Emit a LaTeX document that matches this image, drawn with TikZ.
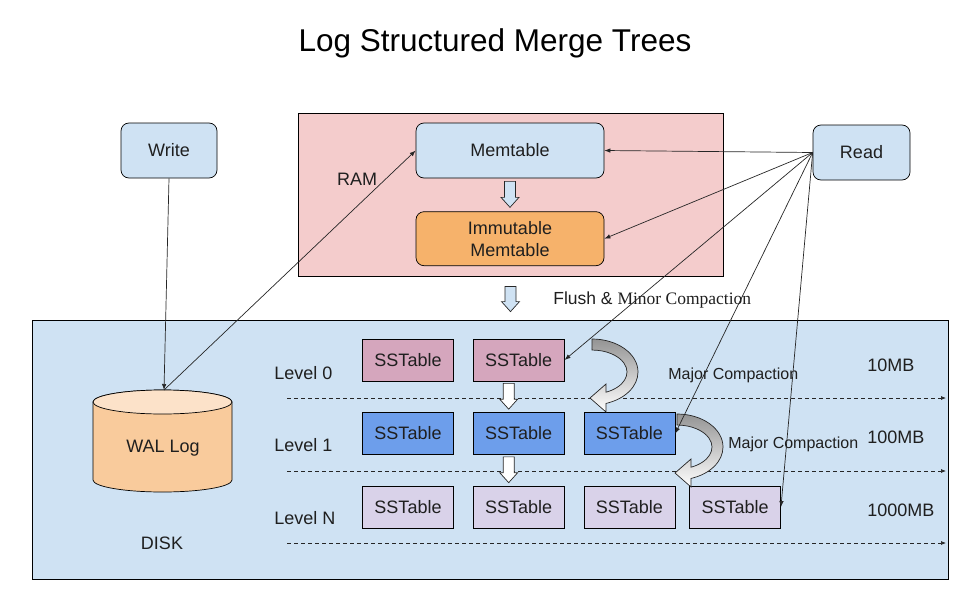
\documentclass[tikz,border=0pt]{standalone}
\usepackage{fontspec}
\setmainfont{Liberation Sans}
\newfontfamily\serifpart{Liberation Serif}
\usepackage{xcolor}
\usetikzlibrary{calc}
\usetikzlibrary{positioning}
\usetikzlibrary{arrows.meta}

\definecolor{paleblue}{HTML}{CFE2F3}
\definecolor{palered}{HTML}{F4CCCC}
\definecolor{deeporange}{HTML}{F6B26B}
\definecolor{lightorange}{HTML}{F9CB9C}
\definecolor{levelzero}{HTML}{D5A6BD}
\definecolor{levelone}{HTML}{6D9EEB}
\definecolor{leveln}{HTML}{D9D2E9}
\definecolor{ink}{HTML}{1F1F1F}

% thick hollow arrow pointing down: fill, from, to
\newcommand{\fatarrow}[3]{%
  \path[draw=black!85, line width=0.7pt, fill=#1] let \p1=(#2), \p2=(#3) in
    (\x1-5.5pt,\y1) -- (\x1+5.5pt,\y1) -- (\x1+5.5pt,\y2+10pt) -- (\x1+9pt,\y2+10pt)
    -- (\x1,\y2) -- (\x1-9pt,\y2+10pt) -- (\x1-5.5pt,\y2+10pt) -- cycle;
}
% curved compaction arrow around a centre point
\newcommand{\bentarrow}[2]{%
  \begin{scope}[shift={(#1,#2)}]
    \path[draw=black!85, line width=0.7pt, top color=black!42, bottom color=white]
      (0,-33) arc[start angle=90, end angle=-72.3, x radius=46pt, y radius=33pt]
      -- (14,40) -- (-2,26) -- (14,12) -- (14,20.2)
      arc[start angle=-66.4, end angle=90, x radius=35pt, y radius=22pt] -- cycle;
  \end{scope}
}

\begin{document}
\begin{tikzpicture}[x=1pt, y=-1pt, >={Latex[length=6pt, width=4.5pt]}, line width=0.7pt, font=\fontsize{18pt}{22pt}\selectfont, text=ink]
    \tikzstyle{area}=[draw=black, line width=0.8pt, inner sep=0pt]
    \tikzstyle{rbox}=[draw=black, rounded corners=8pt, fill=paleblue, inner sep=0pt, align=center]
    \tikzstyle{sst}=[draw=black, minimum width=91pt, minimum height=42pt, inner sep=0pt]
    \tikzstyle{lbl}=[inner sep=0pt]
    \tikzstyle{wire}=[->, draw=black!85]

    \useasboundingbox (0,0) rectangle (979,594);

    \node[anchor=base, font=\fontsize{31.5pt}{36pt}\selectfont, text=black] (title) at (495,52) {Log Structured Merge Trees};

    % memory and disk
    \node[area, fill=palered, minimum width=425pt, minimum height=163pt] (ram) at (510.5,194.5) {};
    \node[area, fill=paleblue, minimum width=916pt, minimum height=259pt] (disk) at (490,449.5) {};

    \node[rbox, minimum width=96pt, minimum height=55pt] (write) at (169,150.5) {Write};
    \node[rbox, minimum width=97pt, minimum height=55pt] (read) at (861.5,152.5) {Read};
    \node[rbox, minimum width=188pt, minimum height=55pt] (mem) at (510,150.5) {Memtable};
    \node[rbox, fill=deeporange, minimum width=188pt, minimum height=54pt, below=33pt of mem] (imm) {Immutable\\Memtable};
    \node[lbl] (ramlbl) at (357,179) {RAM};

    % write ahead log
    \path[draw=black, fill=lightorange] (93,402) -- (93,480) arc[start angle=180, end angle=360, x radius=69.5pt, y radius=12pt] -- (232,402) arc[start angle=0, end angle=180, x radius=69.5pt, y radius=12pt] -- cycle;
    \path[draw=black, fill=lightorange!55!white] (162.5,402) ellipse[x radius=69.5pt, y radius=12pt];
    \node[lbl] (wal) at (163,448) {WAL Log};
    \coordinate (waltop) at (164,390);
    \node[lbl] (disklbl) at (162,543) {DISK};

    % levels
    \node[lbl, anchor=west] (lev0) at (274,373) {Level 0};
    \node[lbl, anchor=west] (lev1) at (274,445) {Level 1};
    \node[lbl, anchor=west] (levn) at (274,518) {Level N};

    \foreach \yy [count=\i] in {398,471,543} {
        \coordinate (ds\i) at (287,\yy);
        \coordinate (de\i) at (946,\yy);
        \draw[-{Latex[length=5pt, width=4pt]}, draw=black!85, dash pattern=on 4pt off 3pt] (ds\i) -- (de\i);
    }

    \node[sst, fill=levelzero] (s01) at (408,360) {SSTable};
    \node[sst, fill=levelzero, right=19pt of s01] (s02) {SSTable};
    \node[sst, fill=levelone] (s11) at (408,433.5) {SSTable};
    \node[sst, fill=levelone, right=19pt of s11] (s12) {SSTable};
    \node[sst, fill=levelone, right=19pt of s12] (s13) {SSTable};
    \node[sst, fill=leveln] (sn1) at (408,507) {SSTable};
    \node[sst, fill=leveln, right=19pt of sn1] (sn2) {SSTable};
    \node[sst, fill=leveln, right=19pt of sn2] (sn3) {SSTable};
    \node[sst, fill=leveln, right=14pt of sn3] (sn4) {SSTable};

    \node[lbl, anchor=west] (mb0) at (867,365) {10MB};
    \node[lbl, anchor=west] (mb1) at (867,437) {100MB};
    \node[lbl, anchor=west] (mbn) at (867,510) {1000MB};

    % flush and compaction
    \fatarrow{paleblue}{$(mem.south)+(0,3)$}{$(imm.north)+(0,-4)$}
    \fatarrow{paleblue}{$(ram.south)+(0,10)$}{$(disk.north)+(0,-8)$}
    \fatarrow{white}{$(s02.south)+(-10,2)$}{$(s12.north)+(-10,-3)$}
    \fatarrow{white}{$(s12.south)+(-10,2)$}{$(sn2.north)+(-10,-3)$}
    \bentarrow{592}{372}
    \bentarrow{677}{447}

    \node[lbl, anchor=west, font=\fontsize{17.5pt}{21pt}\selectfont] (flush) at (553,300) {Flush \& {\serifpart Minor Compaction}};
    \node[lbl, anchor=west, font=\fontsize{16pt}{19pt}\selectfont] (maj0) at (668,375) {Major Compaction};
    \node[lbl, anchor=west, font=\fontsize{16pt}{19pt}\selectfont] (maj1) at (728,444) {Major Compaction};

    % writes and reads
    \draw[wire] (write.south) -- (waltop);
    \draw[wire] (waltop) -- (mem.west);
    \draw[wire] (read.west) -- (mem.east);
    \draw[wire] (read.west) -- (imm.east);
    \draw[wire] (read.west) -- (s02.east);
    \draw[wire] (read.west) -- (s13.east);
    \draw[wire] (read.west) -- (sn4.east);
\end{tikzpicture}
\end{document}
